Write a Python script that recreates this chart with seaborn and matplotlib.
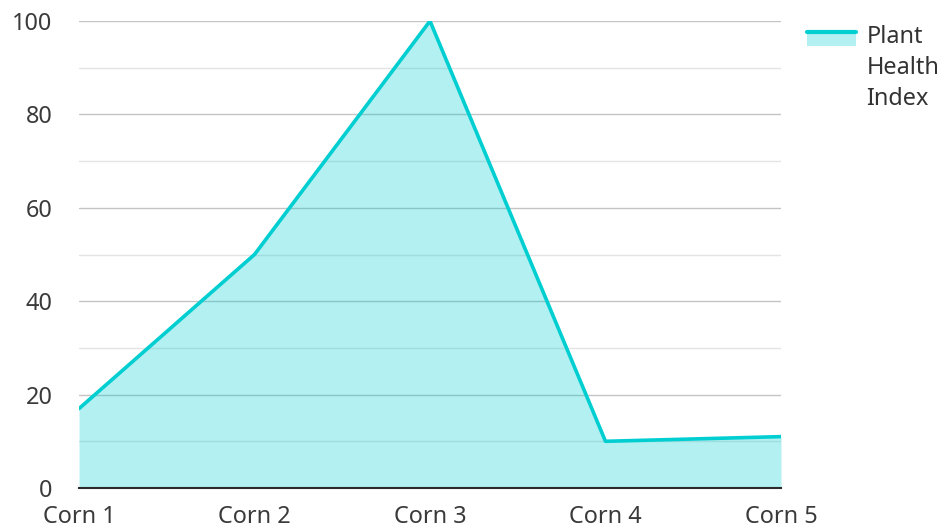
import matplotlib
matplotlib.use("Agg")
import matplotlib.pyplot as plt
from matplotlib.lines import Line2D
from matplotlib.patches import Rectangle
from matplotlib.legend_handler import HandlerBase
from matplotlib.ticker import MultipleLocator
import seaborn as sns
import pandas as pd

categories = ["Corn 1", "Corn 2", "Corn 3", "Corn 4", "Corn 5"]
health_index = [17, 50, 100, 10, 11]
series_name = "Plant Health Index"

LINE = "#00CED1"
FS = 16.9

sns.set_theme(style="white")
plt.rcParams["font.family"] = ["Noto Sans", "DejaVu Sans"]

df = pd.DataFrame({"pos": range(len(categories)), "value": health_index})

fig = plt.figure(figsize=(9.44, 5.29), dpi=100)
ax = fig.add_axes([0.0837, 0.0775, 0.7436, 0.8828])

ax.fill_between(df["pos"], df["value"], 0, color=LINE, alpha=0.3, linewidth=0, zorder=2)
sns.lineplot(data=df, x="pos", y="value", ax=ax, color=LINE, linewidth=2.6, zorder=3)

ax.set_xlim(0, len(categories) - 1)
ax.set_ylim(0, 100)
ax.yaxis.set_major_locator(MultipleLocator(20))
ax.yaxis.set_minor_locator(MultipleLocator(10))
ax.set_xticks(range(len(categories)))
ax.set_xticklabels(categories)
ax.set_axisbelow(True)
ax.grid(axis="y", which="major", color="#c4c4c4", linewidth=1)
ax.grid(axis="y", which="minor", color="#e4e4e4", linewidth=1)
ax.grid(axis="x", visible=False)
for s in ["left", "right", "top"]:
    ax.spines[s].set_visible(False)
ax.spines["bottom"].set_color("#2b2b2b")
ax.spines["bottom"].set_linewidth(1.5)
ax.spines["bottom"].set_zorder(4)
ax.tick_params(axis="both", which="both", length=0, labelsize=FS, labelcolor="#3a3a3a")
ax.tick_params(axis="x", pad=12)
ax.tick_params(axis="y", pad=19)
ax.set_xlabel("")
ax.set_ylabel("")


class AreaHandler(HandlerBase):
    """Legend key: translucent band with the series line along its top edge,
    pinned to the top of the (tall) handle box so it sits beside the first text line."""

    def create_artists(self, legend, orig_handle, xdescent, ydescent, width, height, fontsize, trans):
        top = -ydescent + height + 1.0
        band = 10.0
        rect = Rectangle((-xdescent, top - band), width, band, facecolor=LINE, alpha=0.3,
                         edgecolor="none", transform=trans)
        line = Line2D([-xdescent, -xdescent + width], [top, top], color=LINE, linewidth=3,
                      transform=trans)
        return [rect, line]


handle = Rectangle((0, 0), 1, 1)
leg = fig.legend([handle], ["Plant\nHealth\nIndex"], handler_map={Rectangle: AreaHandler()},
                 loc="upper left", bbox_to_anchor=(807 / 944, 1 - 25 / 529), frameon=False,
                 fontsize=FS, handlelength=2.1, handleheight=4.6, handletextpad=0.43,
                 labelcolor="#333333", borderaxespad=0, borderpad=0)
for t in leg.get_texts():
    t.set_linespacing(1.39)

fig.savefig("out.png", dpi=100)
